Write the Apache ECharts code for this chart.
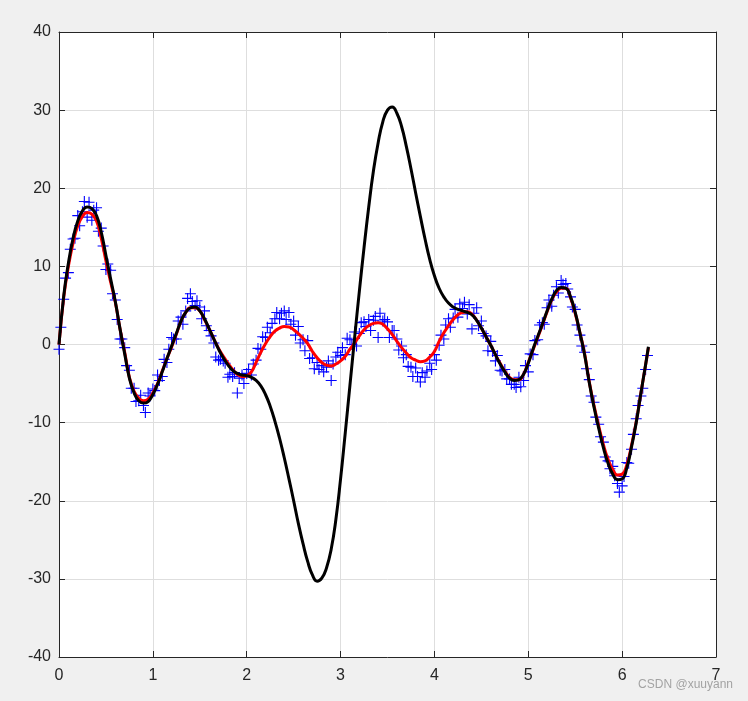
<!DOCTYPE html>
<html>
<head>
<meta charset="utf-8">
<script src="https://cdn.jsdelivr.net/npm/echarts@6/dist/echarts.min.js"></script>
<style>
html,body{margin:0;padding:0;background:#f0f0f0;}
#chart{width:748px;height:701px;}
</style>
</head>
<body>
<div id="chart"></div>
<script>
// ---- data ----
const curveX = [0,0.05,0.1,0.15,0.2,0.25,0.3,0.35,0.4,0.45,
0.5,0.55,0.6,0.65,0.7,0.75,0.8,0.85,0.9,0.95,
1,1.05,1.1,1.15,1.2,1.25,1.3,1.35,1.4,1.45,
1.5,1.55,1.6,1.65,1.7,1.75,1.8,1.85,1.9,1.95,
2,2.05,2.1,2.15,2.2,2.25,2.3,2.35,2.4,2.45,
2.5,2.55,2.6,2.65,2.7,2.75,2.8,2.85,2.9,2.95,
3,3.05,3.1,3.15,3.2,3.25,3.3,3.35,3.4,3.45,
3.5,3.55,3.6,3.65,3.7,3.75,3.8,3.85,3.9,3.95,
4,4.05,4.1,4.15,4.2,4.25,4.3,4.35,4.4,4.45,
4.5,4.55,4.6,4.65,4.7,4.75,4.8,4.85,4.9,4.95,
5,5.05,5.1,5.15,5.2,5.25,5.3,5.35,5.4,5.45,
5.5,5.55,5.6,5.65,5.7,5.75,5.8,5.85,5.9,5.95,
6,6.05,6.1,6.15,6.2,6.25,6.28];

const redY = [0,6.0,10.0,13.0,15.2,16.4,16.9,16.7,15.8,13.6,
10.7,8.0,5.4,2.0,-1.0,-4.2,-6.0,-6.9,-7.2,-7.0,
-6.2,-5.0,-3.4,-1.8,-0.3,1.3,3.0,4.1,4.7,4.7,
4.3,3.2,2.0,0.7,-0.5,-1.5,-2.4,-3.2,-3.8,-4.1,
-4.0,-3.5,-2.3,-1.0,0.1,1.0,1.7,2.1,2.3,2.25,
1.9,1.4,0.8,0.1,-0.9,-1.7,-2.3,-2.65,-2.75,-2.5,
-2.1,-1.5,-0.6,0.2,1.1,1.9,2.4,2.7,2.8,2.6,
2.0,1.3,0.4,-0.4,-1.1,-1.7,-2.0,-2.2,-2.1,-1.6,
-0.9,0.4,1.5,2.4,3.2,3.8,4.1,4.2,3.9,3.1,
2.1,1.0,-0.1,-1.3,-2.4,-3.4,-4.2,-4.5,-4.5,-3.8,
-2.3,-0.7,0.9,2.5,4.2,5.7,6.7,7.2,7.2,6.0,
4.0,1.5,-1.2,-4.8,-7.8,-10.4,-12.8,-14.7,-16.0,-16.7,
-16.6,-15.4,-12.9,-9.9,-6.2,-2.6,-0.4];

const blackY = [0,6.2,10.4,13.6,15.8,17.1,17.6,17.4,16.5,14.4,
11.4,8.4,5.5,2.0,-1.2,-4.3,-6.2,-7.2,-7.5,-7.3,
-6.4,-5.1,-3.5,-1.8,-0.2,1.4,3.0,4.1,4.7,4.8,
4.3,3.3,2.0,0.7,-0.6,-1.7,-2.6,-3.3,-3.7,-3.9,
-4.0,-4.2,-4.6,-5.3,-6.4,-7.9,-9.8,-12.0,-14.5,-17.2,
-20.0,-22.9,-25.5,-27.8,-29.5,-30.3,-29.9,-28.6,-26.2,-22.4,
-17.2,-11.3,-5.2,0.9,6.8,12.4,17.6,22.2,25.8,28.5,
30.0,30.4,29.6,27.9,25.4,22.5,19.4,16.4,13.5,10.9,
8.8,7.2,6.1,5.3,4.8,4.5,4.3,4.1,3.8,3.1,
2.1,1.0,-0.1,-1.3,-2.5,-3.5,-4.3,-4.6,-4.5,-3.8,
-2.4,-0.6,1.0,2.6,4.3,5.8,6.9,7.3,7.2,6.1,
4.1,1.5,-1.3,-4.9,-8.0,-10.7,-13.2,-15.2,-16.6,-17.3,
-17.2,-15.8,-13.1,-10.0,-6.2,-2.6,-0.3];

const scatterX = [0,0.02,0.05,0.07,0.1,0.12,0.15,0.17,0.2,0.22,
0.25,0.27,0.3,0.32,0.35,0.37,0.4,0.42,0.45,0.47,
0.5,0.52,0.55,0.57,0.6,0.62,0.65,0.67,0.7,0.72,
0.75,0.77,0.8,0.82,0.85,0.87,0.9,0.92,0.95,0.97,
1,1.02,1.05,1.07,1.1,1.12,1.15,1.17,1.2,1.22,
1.25,1.27,1.3,1.32,1.35,1.37,1.4,1.42,1.45,1.47,
1.5,1.52,1.55,1.57,1.6,1.62,1.65,1.67,1.7,1.72,
1.75,1.77,1.8,1.82,1.85,1.87,1.9,1.92,1.95,1.97,
2,2.02,2.05,2.07,2.1,2.12,2.15,2.17,2.2,2.22,
2.25,2.27,2.3,2.32,2.35,2.37,2.4,2.42,2.45,2.47,
2.5,2.52,2.55,2.57,2.6,2.62,2.65,2.67,2.7,2.72,
2.75,2.77,2.8,2.82,2.85,2.87,2.9,2.92,2.95,2.97,
3,3.02,3.05,3.07,3.1,3.12,3.15,3.17,3.2,3.22,
3.25,3.27,3.3,3.32,3.35,3.37,3.4,3.42,3.45,3.47,
3.5,3.52,3.55,3.57,3.6,3.62,3.65,3.67,3.7,3.72,
3.75,3.77,3.8,3.82,3.85,3.87,3.9,3.92,3.95,3.97,
4,4.02,4.05,4.07,4.1,4.12,4.15,4.17,4.2,4.22,
4.25,4.27,4.3,4.32,4.35,4.37,4.4,4.42,4.45,4.47,
4.5,4.52,4.55,4.57,4.6,4.62,4.65,4.67,4.7,4.72,
4.75,4.77,4.8,4.82,4.85,4.87,4.9,4.92,4.95,4.97,
5,5.02,5.05,5.07,5.1,5.12,5.15,5.17,5.2,5.22,
5.25,5.27,5.3,5.32,5.35,5.37,5.4,5.42,5.45,5.47,
5.5,5.52,5.55,5.57,5.6,5.62,5.65,5.67,5.7,5.72,
5.75,5.77,5.8,5.82,5.85,5.87,5.9,5.92,5.95,5.97,
6,6.02,6.05,6.07,6.1,6.12,6.15,6.17,6.2,6.22,
6.25,6.27];

const scatterY = [-0.6,2.2,5.8,8.5,9.2,12.2,13.5,13.6,16.5,15.2,
17.0,18.3,16.3,18.2,15.9,17.2,17.5,14.5,14.9,12.6,
9.6,10.3,9.5,6.5,5.7,3.2,0.7,0.7,-0.4,-2.7,
-3.3,-5.6,-5.6,-7.3,-7.2,-6.5,-7.8,-8.7,-6.2,-6.6,
-5.7,-5.9,-3.9,-4.6,-4.1,-1.9,-2.3,-0.6,0.9,0.7,
0.7,3.0,3.5,2.6,4.3,5.9,6.5,5.5,5.0,5.6,
4.8,3.3,4.3,2.4,1.8,1.1,0.2,-1.6,-2.0,-1.9,
-2.1,-2.4,-4.2,-3.8,-4.1,-3.6,-6.2,-4.3,-3.9,-5.0,
-3.7,-3.2,-3.9,-2.5,-2.0,-0.5,-0.6,1.0,0.9,2.2,
1.5,2.7,3.3,4.1,3.3,4.0,4.3,3.2,4.1,2.6,
3.0,1.2,2.3,0.2,0.6,-0.8,0.5,-1.8,-1.7,-3.1,
-2.3,-3.2,-2.7,-3.5,-2.9,-2.1,-4.6,-2.5,-1.6,-1.0,
-1.4,-0.4,-1.3,0.8,0.6,0.0,1.6,-0.2,1.4,2.8,
2.9,2.3,3.2,1.8,3.1,3.6,0.9,4.0,3.0,3.2,
2.9,0.9,1.8,1.8,0.7,-0.7,-0.2,-1.7,-1.3,-2.8,
-2.9,-4.1,-3.0,-4.1,-4.8,-3.6,-4.2,-3.4,-2.4,-3.2,
-1.3,-2.0,-0.1,1.2,0.7,2.5,3.3,2.2,3.4,4.5,
3.5,5.2,4.6,5.4,3.9,5.1,2.0,4.0,4.7,2.4,
3.0,1.4,1.1,-0.8,0.4,-0.9,-2.1,-1.4,-3.3,-3.4,
-3.2,-4.4,-4.4,-5.1,-5.1,-5.5,-4.2,-5.4,-4.6,-2.7,
-3.5,-1.2,-1.3,0.5,0.6,2.5,2.8,2.6,4.7,5.7,
4.9,6.3,7.4,6.6,8.2,7.7,7.8,7.1,6.1,4.8,
4.5,2.5,1.2,-0.2,-1.0,-3.1,-4.5,-6.6,-7.4,-9.3,
-10.2,-11.8,-12.5,-14.4,-14.9,-15.9,-15.6,-16.8,-17.8,-18.9,
-18.1,-16.9,-15.1,-15.2,-13.4,-11.5,-9.5,-7.8,-6.6,-5.6,
-3.2,-1.4];

const xTicks = {min: 0, max: 7, interval: 1};
const yTicks = {min: -40, max: 40, interval: 10};

// ---- chart ----
const FONT = "'Liberation Sans', Arial, Helvetica, sans-serif";
const AX = '#262626';
const chart = echarts.init(document.getElementById('chart'), null, {renderer: 'canvas'});

function mainAxis(pos, t, isX) {
  return {
    type: 'value', position: pos, min: t.min, max: t.max, interval: t.interval,
    axisLine: {show: true, onZero: false, lineStyle: {color: AX, width: 1}},
    axisTick: {show: true, inside: true, length: 6, lineStyle: {color: AX, width: 1}},
    axisLabel: {show: true, fontSize: 16, color: AX, fontFamily: FONT, margin: isX ? 11 : 8},
    splitLine: {show: true, lineStyle: {color: '#dedede', width: 1}}
  };
}
function mirrorAxis(pos, t) {
  return {
    type: 'value', position: pos, min: t.min, max: t.max, interval: t.interval,
    axisLine: {show: true, onZero: false, lineStyle: {color: AX, width: 1}},
    axisTick: {show: true, inside: true, length: 6, lineStyle: {color: AX, width: 1}},
    axisLabel: {show: false},
    splitLine: {show: false}
  };
}

const option = {
  animation: false,
  backgroundColor: '#f0f0f0',
  grid: {left: 59, top: 32, width: 657, height: 625, show: true, backgroundColor: '#ffffff', borderWidth: 0},
  xAxis: [mainAxis('bottom', xTicks, true), mirrorAxis('top', xTicks)],
  yAxis: [mainAxis('left', yTicks, false), mirrorAxis('right', yTicks)],
  graphic: [{
    type: 'text', right: 15, top: 679,
    style: {text: 'CSDN @xuuyann', fontSize: 12, fill: '#a3a3a3', fontFamily: FONT}
  }],
  series: [
    {
      type: 'scatter', xAxisIndex: 0, yAxisIndex: 0,
      data: scatterX.map((x, i) => [x, scatterY[i]]),
      symbol: 'path://M4.5,0H5.5V10H4.5ZM0,4.5H10V5.5H0Z',
      symbolSize: 11,
      itemStyle: {color: '#0000ff', opacity: 1},
      z: 2
    },
    {
      type: 'line', xAxisIndex: 0, yAxisIndex: 0,
      data: curveX.map((x, i) => [x, redY[i]]),
      smooth: 0.5, showSymbol: false, symbol: 'none',
      lineStyle: {color: '#ff0000', width: 3},
      z: 3
    },
    {
      type: 'line', xAxisIndex: 0, yAxisIndex: 0,
      data: curveX.map((x, i) => [x, blackY[i]]),
      smooth: 0.5, showSymbol: false, symbol: 'none',
      lineStyle: {color: '#000000', width: 3},
      z: 4
    }
  ]
};
chart.setOption(option);
</script>
</body>
</html>
